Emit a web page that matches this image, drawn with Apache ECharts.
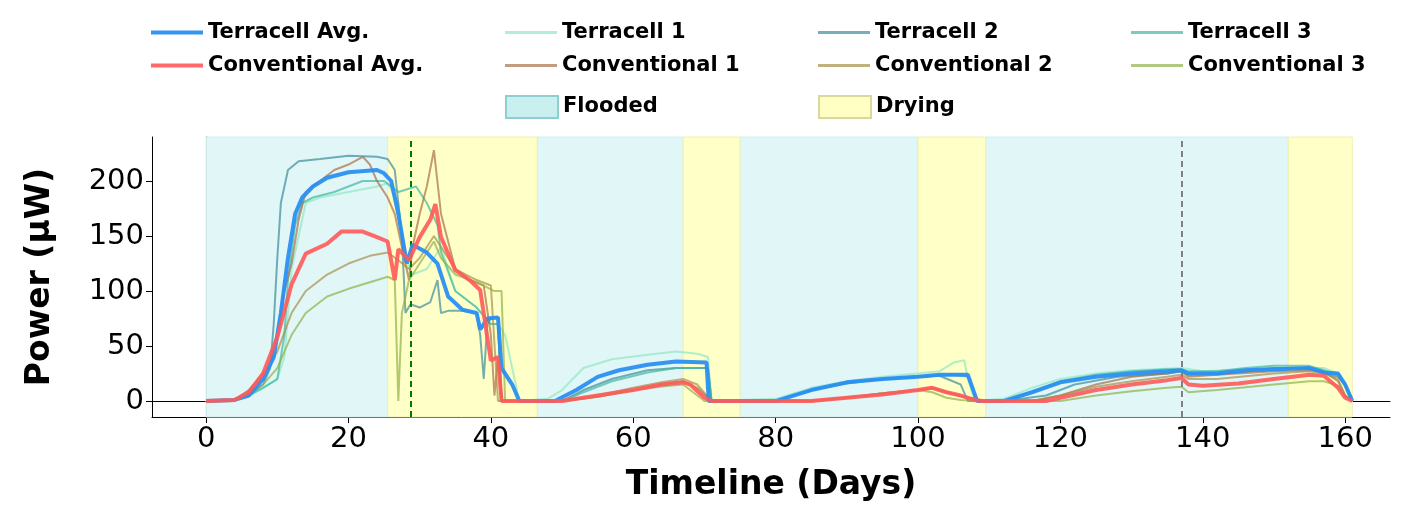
<!DOCTYPE html>
<html>
<head>
<meta charset="utf-8">
<script src="https://cdn.jsdelivr.net/npm/echarts@6/dist/echarts.min.js"></script>
<style>html,body{margin:0;background:#fff}#main{width:1411px;height:511px}</style>
</head>
<body>
<div id="main"></div>
<script>
// [day, power µW]
var terracellAvg = [[0,0],[4,1],[6,5],[8,20],[9.5,40],[10.5,80],[11.5,130],[12.5,170],[13.5,185],[15,195],[17,203],[20,208],[24,210],[25,207],[26,200],[27,170],[28.2,125],[29,142],[31,135],[32.5,125],[34,95],[36,83],[38,80],[38.5,65],[39.5,75],[41,76],[41.5,30],[43,15],[44,0],[49,0],[52,10],[55,22],[58,28],[62,33],[66,36],[70.3,35],[70.6,0],[80,0],[85,10],[90,17],[95,20],[100,22],[103,24],[107,24],[108.3,0],[112,0],[116,8],[120,17],[125,22],[130,25],[135,27],[137,28],[138,25],[142,25],[146,28],[150,29],[155,30],[157,26],[159,25],[160,15],[161,0]];
var conventionalAvg = [[0,0],[4,1],[6,8],[8,25],[10,58],[12,106],[14,134],[17,143],[19,154],[22,154],[24,149],[25.5,145],[26.5,110],[27,138],[28.5,128],[30,149],[31.5,165],[32.2,179],[33,149],[35,119],[37,110],[38.5,101],[39.5,58],[40,37],[41,40],[41.5,0],[50,0],[55,5],[60,10],[64,15],[67,17],[68,15],[70,3],[71,0],[85,0],[90,3],[95,6],[100,10],[102,12],[104,8],[106,5],[108,1],[109,0],[118,0],[120,3],[125,10],[130,15],[135,19],[137,21],[138,15],[140,14],[145,16],[150,20],[155,24],[157,23],[159,12],[160,3],[161,0]];
var terracell1 = [[0,0],[4,1],[6,5],[8,12],[10,20],[11,40],[12,120],[13,150],[14,180],[16,185],[20,190],[24,195],[25.5,198],[27,180],[28,130],[29,115],[31,120],[33,140],[35,100],[38,85],[40,70],[41,70],[42,60],[43,30],[44,0],[48,2],[50,10],[53,30],[57,38],[62,42],[66,45],[69,43],[70.5,40],[71,0],[80,2],[85,12],[90,18],[95,22],[100,25],[103,27],[105,35],[106.5,37],[107,20],[108,0],[112,2],[116,12],[120,20],[125,25],[130,28],[137,30],[140,27],[150,30],[157,30],[159,25],[160,15],[161,0]];
var terracell2 = [[0,0],[4,1],[6,5],[8,15],[9,30],[9.5,70],[10,130],[10.5,180],[11.5,210],[13,218],[16,220],[20,223],[24,222],[25.5,220],[26.5,210],[27.5,150],[28,80],[28.7,88],[30,85],[31.5,90],[32.5,110],[33,80],[34,82],[36,82],[38,80],[38.5,60],[39,20],[39.5,70],[40,75],[41,76],[41.5,0],[50,0],[53,10],[57,20],[62,28],[66,30],[70.5,30],[71,0],[80,0],[85,10],[90,16],[95,20],[100,22],[103,23],[106,15],[107,0],[112,0],[118,5],[122,15],[128,22],[135,25],[137,27],[138,24],[145,26],[150,30],[155,30],[157,25],[159,22],[160,15],[161,0]];
var terracell3 = [[0,0],[4,1],[6,5],[8,12],[10,20],[11,60],[11.5,110],[12.5,160],[13.5,180],[15,185],[18,190],[22,200],[25,200],[27,190],[29.5,195],[31,180],[32.5,160],[33,135],[35,100],[38,85],[40,70],[41,70],[41.5,0],[50,0],[53,8],[57,18],[62,26],[66,30],[70.5,30],[71,0],[80,0],[85,10],[90,17],[95,20],[100,22],[105,24],[107,22],[108.3,0],[112,0],[116,8],[120,18],[125,24],[130,27],[135,29],[137,29],[138,27],[142,27],[146,30],[150,32],[155,32],[157,28],[159,24],[160,15],[161,0]];
var conventional1 = [[0,0],[4,1],[6,10],[8,25],[9,35],[10,60],[11,100],[12,125],[13,165],[14,190],[16,200],[18,210],[20,215],[22,222],[23,215],[24,200],[25.5,185],[26.5,170],[27.5,140],[28.5,110],[29,140],[30,170],[31,195],[32,228],[33,170],[35,120],[37,110],[39,105],[40,60],[40.5,5],[41,40],[41.5,0],[50,0],[55,4],[60,10],[64,15],[67,18],[69,12],[71,0],[85,0],[90,3],[95,7],[100,10],[102,12],[104,8],[107,3],[109,0],[116,0],[120,5],[125,15],[130,22],[135,25],[137,27],[138,22],[142,24],[150,27],[155,28],[157,27],[159,18],[160,5],[161,0]];
var conventional2 = [[0,0],[4,1],[6,8],[8,22],[10,45],[12,80],[14,100],[17,115],[20,125],[23,132],[25.5,135],[27,128],[28.5,120],[30,130],[32,150],[33,140],[35,120],[38,110],[40,105],[41,0],[50,0],[55,5],[60,12],[64,17],[67,20],[69,15],[71,0],[85,0],[90,3],[95,7],[100,10],[102,12],[104,8],[107,3],[109,0],[116,0],[120,5],[125,13],[130,18],[135,22],[137,24],[138,20],[142,20],[150,25],[155,27],[157,25],[159,20],[160,5],[161,0]];
var conventional3 = [[0,0],[4,1],[6,8],[8,15],[10,30],[12,60],[14,80],[17,95],[20,102],[23,108],[25.5,113],[26.5,110],[27,0],[27.5,80],[28.5,110],[30,125],[32,145],[33,130],[35,115],[38,108],[40.5,100],[41.5,100],[42,0],[50,0],[55,4],[60,10],[65,14],[67,15],[69,5],[70,0],[85,0],[90,3],[95,6],[100,10],[102,8],[104,3],[106,1],[109,0],[120,0],[125,5],[130,9],[135,12],[137,13],[138,8],[142,10],[150,15],[155,18],[157,18],[159,14],[160,5],[161,0]];
var floodedSpans = [[0,25.5],[46.5,67],[75,100],[109.5,152]];
var dryingSpans = [[25.5,46.5],[67,75],[100,109.5],[152,161]];
var eventDays = [28.7, 137];
var xTicks = [0, 20, 40, 60, 80, 100, 120, 140, 160];
var yTicks = [0, 50, 100, 150, 200];

var chart = echarts.init(document.getElementById('main'));
var FONT = 'DejaVu Sans';

function line(name, data, color, width, opacity, z) {
    return {
        name: name, type: 'line', data: data, showSymbol: false, symbol: 'none',
        z: z, lineStyle: {color: color, width: width, opacity: opacity},
        itemStyle: {color: color, opacity: opacity}
    };
}

function spans(list) {
    return list.map(function (s) { return [{xAxis: s[0]}, {xAxis: s[1]}]; });
}

var legendText = {fontFamily: FONT, fontWeight: 'bold', fontSize: 21, color: '#000'};
function legend(left, top, names, h) {
    return {
        orient: 'vertical', left: left, top: top, data: names, icon: 'rect',
        itemWidth: 52, itemHeight: h, itemGap: 12, textStyle: legendText
    };
}

var frameAxis = {
    axisLine: {show: true, lineStyle: {color: '#000'}},
    axisTick: {show: false}, axisLabel: {show: false}, splitLine: {show: false}
};

chart.setOption({
    animation: false,
    grid: {left: 152, right: 21, top: 137, bottom: 94},
    legend: [
        legend(146, 17, ['Terracell Avg.', 'Conventional Avg.'], 4),
        legend(500, 17, ['Terracell 1', 'Conventional 1'], 3),
        legend(813, 17, ['Terracell 2', 'Conventional 2'], 3),
        legend(1126, 17, ['Terracell 3', 'Conventional 3'], 3),
        legend(500, 90, ['Flooded'], 22),
        legend(813, 90, ['Drying'], 22)
    ],
    xAxis: [{
        type: 'value', min: -7.6, max: 166.3,
        name: 'Timeline (Days)', nameLocation: 'middle', nameGap: 52,
        nameTextStyle: {fontFamily: FONT, fontWeight: 'bold', fontSize: 33, color: '#000'},
        axisLine: {onZero: false, lineStyle: {color: '#000'}},
        axisTick: {length: 6, lineStyle: {color: '#000'}, customValues: xTicks},
        axisLabel: {fontFamily: FONT, fontSize: 29, color: '#000', margin: 8, customValues: xTicks},
        splitLine: {show: false}
    }, Object.assign({type: 'value', min: -7.6, max: 166.3, position: 'top'}, frameAxis)],
    yAxis: [{
        type: 'value', min: -14.5, max: 240,
        name: 'Power (µW)', nameLocation: 'middle', nameGap: 95,
        nameTextStyle: {fontFamily: FONT, fontWeight: 'bold', fontSize: 33, color: '#000'},
        axisLine: {show: true, onZero: false, lineStyle: {color: '#000'}},
        axisTick: {show: true, length: 6, lineStyle: {color: '#000'}, customValues: yTicks},
        axisLabel: {fontFamily: FONT, fontSize: 29, color: '#000', margin: 8, customValues: yTicks},
        splitLine: {show: false}
    }, Object.assign({type: 'value', min: -14.5, max: 240, position: 'right'}, frameAxis)],
    series: [
        {
            name: 'Flooded', type: 'line', data: [], z: 1,
            itemStyle: {color: '#c9efef', borderColor: '#8fcfcf', borderWidth: 1},
            lineStyle: {color: '#c9efef'},
            markArea: {silent: true, itemStyle: {color: '#e1f6f6', borderColor: '#d0efef', borderWidth: 1}, data: spans(floodedSpans)}
        },
        {
            name: 'Drying', type: 'line', data: [], z: 1,
            itemStyle: {color: '#ffffc4', borderColor: '#d8d8a0', borderWidth: 1},
            lineStyle: {color: '#ffffc4'},
            markArea: {silent: true, itemStyle: {color: '#ffffc8', borderColor: '#eef0b0', borderWidth: 1}, data: spans(dryingSpans)},
            markLine: {
                silent: true, symbol: 'none', label: {show: false},
                data: [
                    {xAxis: eventDays[0], lineStyle: {color: '#007a00', type: [6, 4], width: 2}},
                    {xAxis: eventDays[1], lineStyle: {color: '#808080', type: [6, 4], width: 2}}
                ]
            }
        },
        line('Terracell 1', terracell1, '#8ee8c4', 2, 0.7, 3),
        line('Terracell 2', terracell2, '#3f8c9c', 2, 0.7, 3),
        line('Terracell 3', terracell3, '#3fb8a0', 2, 0.7, 3),
        line('Conventional 1', conventional1, '#a8704a', 2, 0.7, 3),
        line('Conventional 2', conventional2, '#a8904a', 2, 0.7, 3),
        line('Conventional 3', conventional3, '#90b048', 2, 0.7, 3),
        line('Terracell Avg.', terracellAvg, '#2a8ff2', 4, 0.95, 5),
        line('Conventional Avg.', conventionalAvg, '#ff5a5a', 4, 0.9, 5)
    ]
});
</script>
</body>
</html>
